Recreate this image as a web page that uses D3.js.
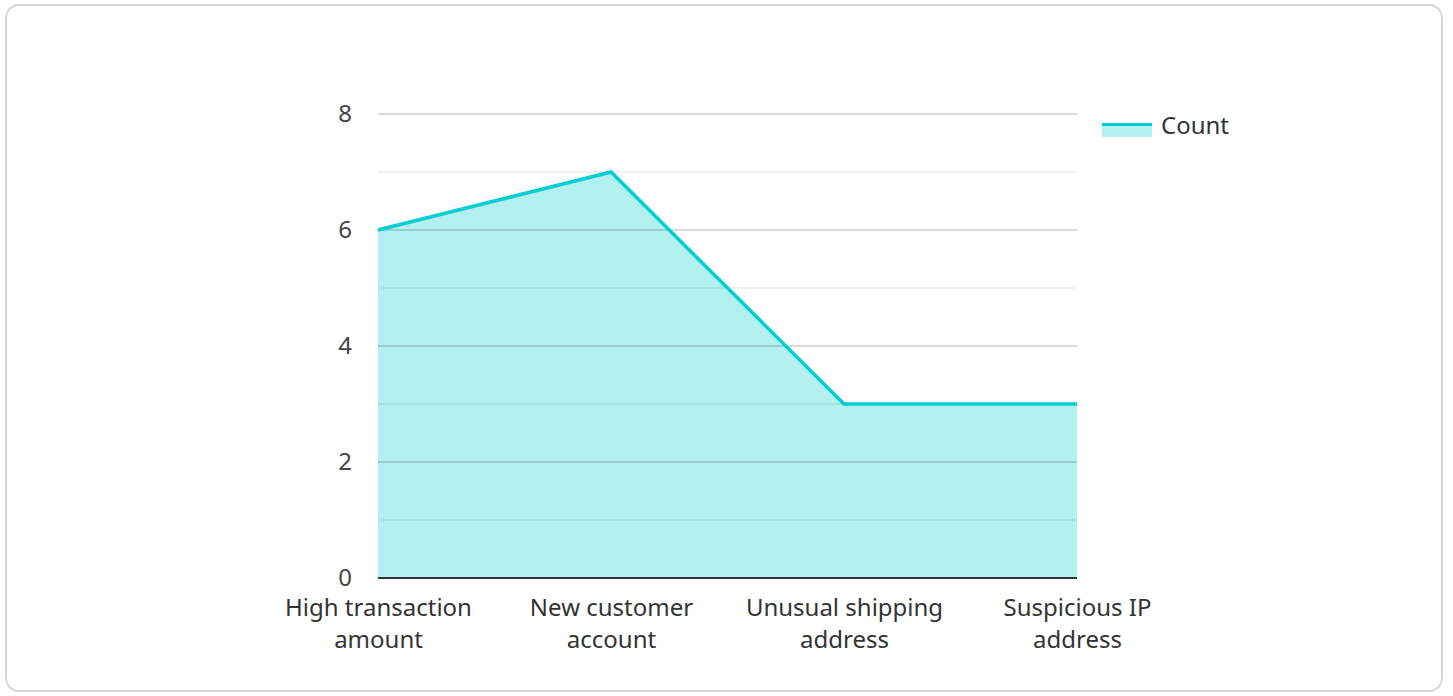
<!DOCTYPE html>
<html>
<head>
<meta charset="utf-8">
<script src="https://cdn.jsdelivr.net/npm/d3@7"></script>
<style>
  body { margin: 0; background: #fff; font-family: "Noto Sans", "Open Sans", sans-serif; }
  .card { position: absolute; left: 5px; top: 4px; width: 1438px; height: 688px;
          border: 2px solid #d6d6d6; border-radius: 14px; box-sizing: border-box; }
  svg { position: absolute; left: 0; top: 0; }
</style>
</head>
<body>
<div class="card"></div>
<script>
// data
var categories = ["High transaction amount", "New customer account", "Unusual shipping address", "Suspicious IP address"];
var counts = [6, 7, 3, 3];
var yTicks = [0, 2, 4, 6, 8];
var seriesName = "Count";

var W = 1453, H = 696;
var margin = {top: 114, right: 376, bottom: 118, left: 378},
    width = W - margin.left - margin.right,
    height = H - margin.top - margin.bottom;

var lineColor = "#00CED1";
var fontFam = "'Noto Sans', 'Open Sans', sans-serif";

var svg = d3.select("body").append("svg")
    .attr("width", W)
    .attr("height", H);

var g = svg.append("g")
    .attr("transform", "translate(" + margin.left + "," + margin.top + ")");

var x = d3.scalePoint().domain(categories).range([0, width]).padding(0);
var y = d3.scaleLinear().domain([0, 8]).range([height, 0]);

var data = categories.map(function(c, i) { return {cat: c, v: counts[i]}; });

// area fill
var area = d3.area()
    .x(function(d) { return x(d.cat); })
    .y0(height)
    .y1(function(d) { return y(d.v); });

g.append("path")
    .datum(data)
    .attr("fill", lineColor)
    .attr("fill-opacity", 0.3)
    .attr("d", area);

// grid lines (drawn over fill)
var minor = d3.range(1, 8, 2);
g.selectAll(".minor").data(minor).enter().append("line")
    .attr("x1", 0).attr("x2", width)
    .attr("y1", function(d) { return y(d); })
    .attr("y2", function(d) { return y(d); })
    .attr("stroke", "#000").attr("stroke-opacity", 0.08).attr("stroke-width", 1.5);

g.selectAll(".major").data(yTicks.slice(1)).enter().append("line")
    .attr("x1", 0).attr("x2", width)
    .attr("y1", function(d) { return y(d); })
    .attr("y2", function(d) { return y(d); })
    .attr("stroke", "#000").attr("stroke-opacity", 0.2).attr("stroke-width", 1.5);

// line
var valueline = d3.line()
    .x(function(d) { return x(d.cat); })
    .y(function(d) { return y(d.v); });

g.append("path")
    .datum(data)
    .attr("fill", "none")
    .attr("stroke", lineColor)
    .attr("stroke-width", 3.5)
    .attr("d", valueline);

// baseline
g.append("line")
    .attr("x1", 0).attr("x2", width)
    .attr("y1", height).attr("y2", height)
    .attr("stroke", "#333").attr("stroke-width", 2);

// y axis labels
var yAxis = d3.axisLeft(y).tickValues(yTicks).tickSize(0).tickPadding(26);
var ya = g.append("g").call(yAxis);
ya.select(".domain").remove();
ya.selectAll("text")
    .attr("font-family", fontFam)
    .attr("font-size", 24)
    .attr("fill", "#444");

// x axis labels, wrapped on two lines
var xAxis = d3.axisBottom(x).tickSize(0).tickPadding(0).tickFormat("");
var xa = g.append("g").attr("transform", "translate(0," + height + ")").call(xAxis);
xa.select(".domain").remove();

xa.selectAll(".tick").each(function(d) {
  var words = d.split(" ");
  var l1 = words.slice(0, words.length - 1).join(" ");
  var l2 = words[words.length - 1];
  var t = d3.select(this).append("text")
      .attr("text-anchor", "middle")
      .attr("font-family", fontFam)
      .attr("font-size", 24)
      .attr("fill", "#333");
  t.append("tspan").attr("x", 0).attr("y", 38).text(l1);
  t.append("tspan").attr("x", 0).attr("y", 70).text(l2);
});

// legend
var leg = svg.append("g").attr("transform", "translate(1102,123)");
leg.append("rect").attr("width", 50).attr("height", 14)
    .attr("fill", lineColor).attr("fill-opacity", 0.3);
leg.append("line").attr("x1", 0).attr("x2", 50).attr("y1", 1.5).attr("y2", 1.5)
    .attr("stroke", lineColor).attr("stroke-width", 3);
leg.append("text")
    .attr("x", 59).attr("y", 3)
    .attr("dy", "0.35em")
    .attr("font-family", fontFam)
    .attr("font-size", 24)
    .attr("fill", "#333")
    .text(seriesName);
</script>
</body>
</html>
